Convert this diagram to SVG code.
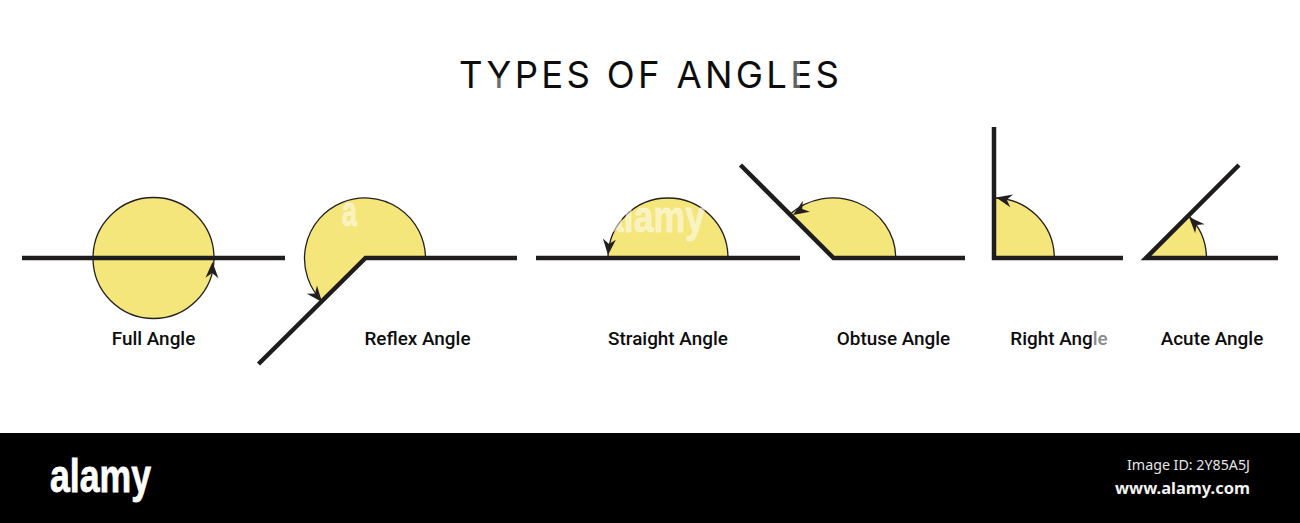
<svg xmlns="http://www.w3.org/2000/svg" xmlns:xlink="http://www.w3.org/1999/xlink" width="1300" height="523" viewBox="0 0 1300 523">
<style>
.ray{fill:none;stroke:#1f1c1d;stroke-width:4.5;stroke-linejoin:miter;stroke-linecap:butt}
.sector{fill:#f4e67a;stroke:none}
.arc{fill:none;stroke:#231f20;stroke-width:1.3}
.head{fill:#231f20}
.label{font-family:Roboto,"Liberation Sans",sans-serif;font-weight:500;font-size:18.9px;fill:#0d0d0d;text-anchor:middle}
.mark{font-family:"Liberation Sans",Arial,sans-serif;font-weight:700;fill:#fff;fill-opacity:.5;stroke:#fff;stroke-opacity:.5;stroke-width:.8}
</style>
<defs><path id="head" class="head" d="M0 0L-16-6.500L-11 0L-16 6.500Z"/></defs>
<rect width="1300" height="523" fill="#fff"/>
<text x="459" y="88" font-family="Inter,Lato,sans-serif" font-size="36.500" font-weight="400" fill="#0d0d0d" textLength="380" lengthAdjust="spacing">TYPES OF ANGLES</text>
<rect x="492" y="78" width="9" height="11" fill="#fff" fill-opacity=".4"/>
<rect x="792" y="60" width="8" height="29" fill="#fff" fill-opacity=".35"/>

<g id="full-angle">
<circle class="sector" cx="153.500" cy="258" r="60.500"/>
<circle class="arc" cx="153.500" cy="258" r="60.500"/>
<use href="#head" xlink:href="#head" transform="translate(212.500 262) rotate(-88)"/>
<text class="label" x="153.500" y="345">Full Angle</text>
</g>
<g id="reflex-angle">
<path class="sector" d="M365 258H425.500A60.500 60.500 0 1 0 322 301Z"/>
<path class="arc" d="M425.500 258A60.500 60.500 0 1 0 322 301"/>
<text class="mark" x="342" y="226" font-size="42" textLength="15" lengthAdjust="spacingAndGlyphs">a</text>
<use href="#head" xlink:href="#head" transform="translate(322 302) rotate(51)"/>
<text class="label" x="417.500" y="345">Reflex Angle</text>
</g>
<g id="straight-angle">
<path class="sector" d="M608 258A60 60 0 0 1 728 258Z"/>
<path class="arc" d="M728 258A60 60 0 0 0 608 258"/>
<text class="mark" x="604" y="232" font-size="44" textLength="101" lengthAdjust="spacingAndGlyphs">alamy</text>
<use href="#head" xlink:href="#head" transform="translate(608 255) rotate(95)"/>
<text class="label" x="668" y="345">Straight Angle</text>
</g>
<g id="obtuse-angle">
<path class="sector" d="M833 258H895.700A62.700 60 0 0 0 789.600 214.600Z"/>
<path class="arc" d="M895.700 258A62.700 60 0 0 0 789.600 214.600"/>
<use href="#head" xlink:href="#head" transform="translate(793 215) rotate(147)"/>
<text class="label" x="893.500" y="345">Obtuse Angle</text>
</g>
<g id="right-angle">
<path class="sector" d="M994 258H1054.300A60.300 60 0 0 0 994 198Z"/>
<path class="arc" d="M1054.300 258A60.300 60 0 0 0 994 198"/>
<use href="#head" xlink:href="#head" transform="translate(996 197.500) rotate(192)"/>
<text class="label" x="1059" y="345">Right Ang<tspan fill="#8a8a8a">le</tspan></text>
</g>
<g id="acute-angle">
<path class="sector" d="M1145 258H1206.500A61 61 0 0 0 1189 216Z"/>
<path class="arc" d="M1206.500 258A61 61 0 0 0 1189 216"/>
<use href="#head" xlink:href="#head" transform="translate(1189 217) rotate(227)"/>
<text class="label" x="1212" y="345">Acute Angle</text>
</g>

<g id="connectors">
<path class="ray" d="M22 258H285"/>
<path class="ray" d="M258.500 364L365.500 258H517"/>
<path class="ray" d="M536 258H800"/>
<path class="ray" d="M740.500 165L833.500 258H965"/>
<path class="ray" d="M994 127V258H1123"/>
<path class="ray" d="M1239 165L1146 258H1278"/>
</g>

<g id="footer">
<rect y="433" width="1300" height="90" fill="#000"/>
<text x="50" y="492" font-family="'Liberation Sans',Arial,sans-serif" font-weight="700" font-size="46" fill="#fff" stroke="#fff" stroke-width=".8" textLength="101" lengthAdjust="spacingAndGlyphs">alamy</text>
<text x="1127" y="470" font-family="'Noto Sans','Open Sans',sans-serif" font-size="15" fill="#e6e6e6" textLength="123" lengthAdjust="spacingAndGlyphs">Image ID: 2Y85A5J</text>
<text x="1115" y="494" font-family="'Noto Sans','Open Sans',sans-serif" font-weight="700" font-size="16" fill="#f2f2f2" textLength="135" lengthAdjust="spacingAndGlyphs">www.alamy.com</text>
</g>
</svg>
